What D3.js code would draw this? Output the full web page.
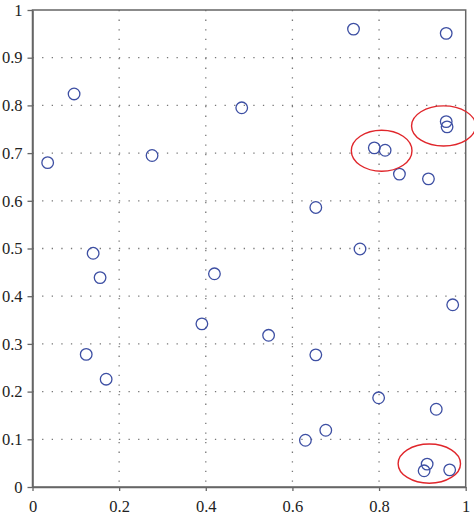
<!DOCTYPE html>
<html>
<head>
<meta charset="utf-8">
<script src="https://cdn.jsdelivr.net/npm/d3@7"></script>
<style>
  body { margin: 0; background: #fff; }
</style>
</head>
<body>
<div id="chart-area"></div>
<script>
// scatter points
var xs = [0.035, 0.096, 0.276, 0.483, 0.741, 0.955, 0.955, 0.957, 0.789, 0.814,
          0.847, 0.914, 0.654, 0.756, 0.140, 0.156, 0.420, 0.391, 0.545, 0.654,
          0.124, 0.170, 0.970, 0.799, 0.932, 0.677, 0.630, 0.911, 0.904, 0.963];
var ys = [0.680, 0.824, 0.695, 0.795, 0.960, 0.951, 0.766, 0.755, 0.711, 0.706,
          0.656, 0.646, 0.586, 0.499, 0.490, 0.439, 0.447, 0.342, 0.318, 0.277,
          0.278, 0.226, 0.382, 0.187, 0.163, 0.119, 0.098, 0.048, 0.034, 0.036];

// red highlight ellipses (centre + radii, in data units)
var ringX  = [0.806, 0.949, 0.916];
var ringY  = [0.705, 0.757, 0.049];
var ringRx = [0.070, 0.074, 0.072];
var ringRy = [0.043, 0.042, 0.041];

var xTicks = [0, 0.2, 0.4, 0.6, 0.8, 1];
var yTicks = [0, 0.1, 0.2, 0.3, 0.4, 0.5, 0.6, 0.7, 0.8, 0.9, 1];

var margin = {top: 10, right: 8.3, bottom: 31, left: 32.5};
var width = 474 - margin.left - margin.right;
var height = 518 - margin.top - margin.bottom;

var svg = d3.select("#chart-area").append("svg")
            .attr("width", 474)
            .attr("height", 518);

var g = svg.append("g")
           .attr("transform", "translate(" + margin.left + "," + margin.top + ")");

var xscale = d3.scaleLinear().domain([0, 1]).range([0, width]);
var yscale = d3.scaleLinear().domain([0, 1]).range([height, 0]);

// dotted grid
g.selectAll(".vgrid")
 .data(xTicks.slice(1, -1))
 .enter().append("line")
 .attr("x1", d => xscale(d)).attr("x2", d => xscale(d))
 .attr("y1", 0).attr("y2", height)
 .attr("stroke", "#777")
 .attr("stroke-width", 1.3)
 .attr("stroke-dasharray", "1.3,8.3");

g.selectAll(".hgrid")
 .data(yTicks.slice(1, -1))
 .enter().append("line")
 .attr("x1", 0).attr("x2", width)
 .attr("y1", d => yscale(d)).attr("y2", d => yscale(d))
 .attr("stroke", "#777")
 .attr("stroke-width", 1.3)
 .attr("stroke-dasharray", "1.3,8.3");

// frame
g.append("rect")
 .attr("width", width).attr("height", height)
 .attr("fill", "none")
 .attr("stroke", "#666")
 .attr("stroke-width", 1.5);

var fmt = function(d) { return String(+d.toFixed(1)); };

var bottomaxis = d3.axisBottom(xscale).tickValues(xTicks).tickFormat(fmt)
                   .tickSize(4).tickSizeOuter(0).tickPadding(9);
var leftaxis = d3.axisLeft(yscale).tickValues(yTicks).tickFormat(fmt)
                 .tickSize(5).tickSizeOuter(0).tickPadding(5);

var gx = g.append("g")
 .attr("transform", "translate(0," + height + ")")
 .call(bottomaxis);
var gy = g.append("g").call(leftaxis);

[gx, gy].forEach(function(a) {
  a.select(".domain").attr("stroke", "#666").attr("stroke-width", 1.5);
  a.selectAll(".tick line").attr("stroke", "#666").attr("stroke-width", 1.3);
  a.selectAll(".tick text")
   .attr("fill", "#222")
   .style("font-family", "'Liberation Serif', 'Times New Roman', serif")
   .style("font-size", "16.5px");
});

// points
g.selectAll("circle.pt")
 .data(xs.map((x, i) => ({x: x, y: ys[i]})))
 .enter().append("circle")
 .attr("class", "pt")
 .attr("cx", d => xscale(d.x))
 .attr("cy", d => yscale(d.y))
 .attr("r", 5.8)
 .attr("fill", "none")
 .attr("stroke", "#3d4fa3")
 .attr("stroke-width", 1.3);

// highlight rings
g.selectAll("ellipse")
 .data(ringX.map((x, i) => ({x: x, y: ringY[i], rx: ringRx[i], ry: ringRy[i]})))
 .enter().append("ellipse")
 .attr("cx", d => xscale(d.x))
 .attr("cy", d => yscale(d.y))
 .attr("rx", d => xscale(d.rx) - xscale(0))
 .attr("ry", d => yscale(0) - yscale(d.ry))
 .attr("fill", "none")
 .attr("stroke", "#e0262b")
 .attr("stroke-width", 1.4);
</script>
</body>
</html>
